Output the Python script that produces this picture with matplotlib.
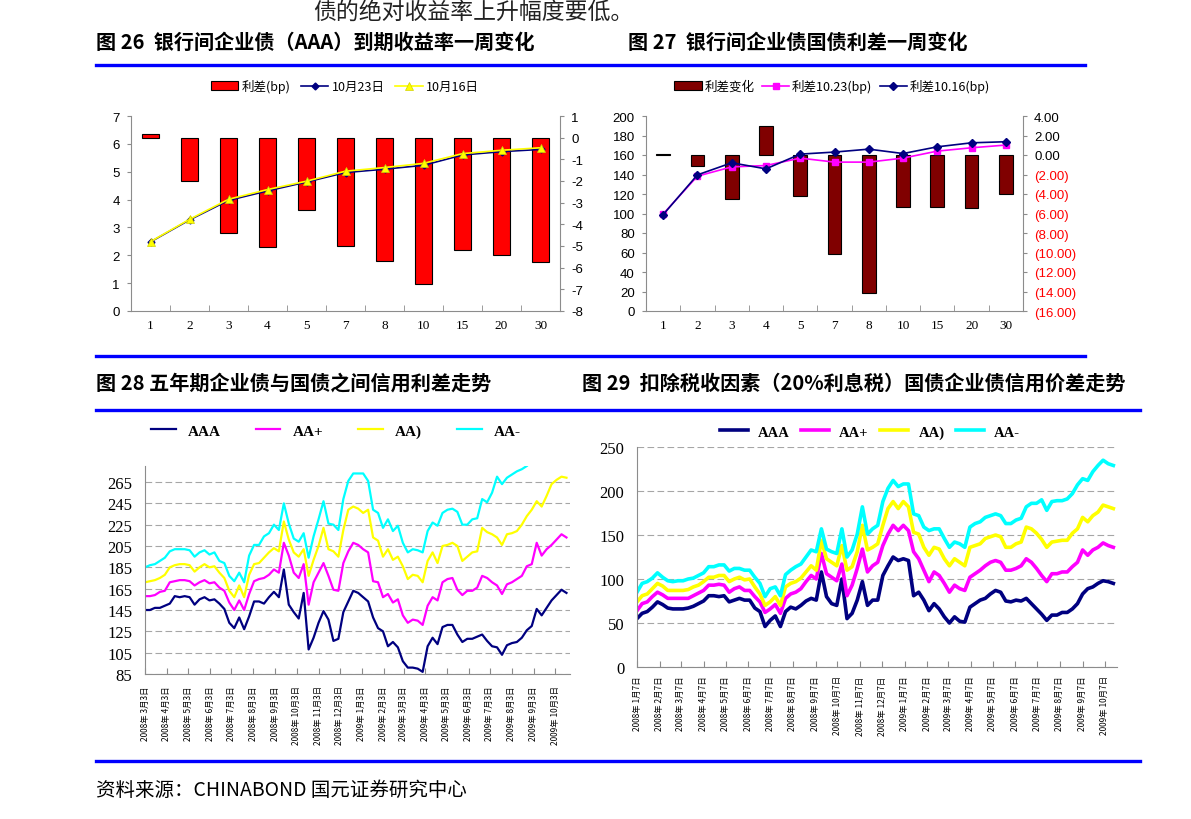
import matplotlib
matplotlib.use("Agg")
import matplotlib.pyplot as plt
import numpy as np
import pandas as pd
from matplotlib.lines import Line2D
from matplotlib.patches import Patch

plt.rcParams["font.family"] = ["Noto Sans CJK SC", "DejaVu Sans"]
plt.rcParams["axes.unicode_minus"] = False

W, H = 1191, 820
GRAY = "#8C8C8C"
NAVY = "#000080"
MAGENTA = "#FF00FF"
YELLOW = "#FFFF00"
CYAN = "#00FFFF"
BLUE = "#0000FF"
SANS = "Liberation Sans"
SERIF = "Liberation Serif"

# fig 26: AAA yield curve, week change
terms = ["1", "2", "3", "4", "5", "7", "8", "10", "15", "20", "30"]
fig26_diff = [0.15, -2.0, -4.4, -5.05, -3.35, -5.0, -5.7, -6.75, -5.2, -5.4, -5.75]
fig26_oct23 = [2.48, 3.27, 3.97, 4.31, 4.63, 4.97, 5.09, 5.23, 5.60, 5.72, 5.80]
fig26_oct16 = [2.49, 3.29, 4.01, 4.36, 4.66, 5.02, 5.15, 5.30, 5.65, 5.77, 5.86]

# fig 27: spread vs treasury, week change
fig27_diff = [0.15, -1.1, -4.5, 3.0, -4.2, -10.2, -14.2, -5.3, -5.3, -5.45, -4.0]
fig27_oct23 = [99.5, 138.3, 147.8, 149.2, 156.8, 152.7, 152.7, 156.8, 164.0, 167.4, 170.2]
fig27_oct16 = [98.8, 139.6, 152.0, 145.8, 160.9, 163.0, 166.0, 161.5, 168.4, 172.5, 173.6]

# fig 28: 5y credit spread, weekly from 2008-03-03
f28_dates = pd.date_range("2008-03-03", periods=86, freq="7D")
f28_aaa = [145, 145, 147, 147, 149, 151, 158, 157, 158, 157,
           150, 155, 157, 154, 155, 151, 146, 133, 128, 138,
           127, 139, 153, 153, 151, 157, 162, 157, 183, 150,
           143, 137, 161, 108, 119, 133, 144, 136, 116, 118,
           143, 153, 163, 161, 157, 153, 138, 128, 125, 111,
           115, 110, 97, 91, 91, 90, 87, 111, 119, 113,
           129, 131, 131, 122, 115, 118, 118, 120, 122, 116,
           111, 110, 103, 112, 114, 115, 119, 126, 130, 146,
           140, 147, 154, 159, 164, 161]
f28_aap = [158, 158, 159, 162, 163, 171, 172, 173, 173, 172,
           168, 171, 173, 170, 171, 166, 163, 152, 145, 154,
           145, 160, 172, 174, 175, 178, 183, 180, 208, 196,
           180, 175, 188, 150, 171, 180, 189, 177, 164, 163,
           189, 200, 208, 206, 202, 199, 172, 171, 157, 160,
           152, 155, 140, 133, 136, 135, 131, 149, 157, 154,
           171, 174, 175, 164, 159, 163, 163, 166, 177, 175,
           171, 168, 160, 169, 171, 174, 177, 186, 188, 208,
           196, 202, 206, 211, 216, 213]
f28_aa = [171, 172, 173, 175, 178, 185, 187, 188, 188, 187,
          181, 185, 188, 185, 186, 180, 175, 163, 157, 168,
          157, 178, 188, 189, 194, 199, 203, 200, 228, 211,
          199, 195, 202, 177, 192, 205, 222, 202, 200, 195,
          220, 239, 242, 240, 236, 239, 213, 210, 195, 202,
          192, 195, 186, 174, 178, 177, 171, 191, 199, 189,
          205, 206, 208, 205, 191, 195, 199, 200, 222, 218,
          216, 213, 206, 216, 217, 219, 225, 233, 239, 247,
          242, 252, 263, 267, 270, 269]
f28_aam = [185, 187, 188, 191, 194, 200, 202, 202, 202, 201,
           195, 199, 201, 197, 199, 191, 189, 177, 172, 180,
           171, 196, 206, 206, 214, 217, 225, 220, 245, 226,
           212, 209, 217, 194, 214, 230, 247, 226, 225, 220,
           249, 266, 273, 273, 273, 266, 239, 236, 222, 230,
           219, 224, 208, 199, 202, 201, 199, 219, 227, 224,
           236, 239, 240, 237, 225, 225, 230, 231, 249, 246,
           255, 270, 263, 269, 272, 275, 277, 280]

# fig 29: after-tax credit spread, weekly from 2008-01-07
f29_dates = pd.date_range("2008-01-07", periods=94, freq="7D")
f29_aaa = [55, 61, 63, 68, 74, 71, 67, 66, 66, 66,
           67, 69, 72, 75, 81, 81, 80, 81, 74, 76,
           78, 76, 76, 67, 63, 46, 53, 58, 46, 63,
           68, 66, 70, 75, 78, 76, 108, 80, 72, 70,
           100, 55, 61, 76, 97, 70, 76, 76, 104, 115,
           125, 121, 123, 121, 81, 85, 76, 64, 72, 66,
           57, 50, 57, 52, 51, 68, 72, 76, 78, 83,
           87, 85, 75, 74, 76, 75, 78, 72, 66, 60,
           53, 59, 59, 62, 62, 66, 72, 83, 89, 91,
           95, 98, 97, 95]
f29_aap = [64, 72, 74, 80, 85, 82, 78, 78, 78, 78,
           78, 81, 84, 87, 93, 93, 94, 93, 85, 89,
           91, 87, 87, 80, 74, 62, 66, 71, 61, 78,
           83, 85, 89, 97, 104, 100, 129, 106, 102, 98,
           117, 81, 93, 112, 134, 108, 115, 119, 138, 151,
           161, 155, 161, 155, 131, 123, 110, 97, 108, 104,
           95, 85, 93, 89, 87, 102, 106, 110, 115, 119,
           121, 119, 110, 110, 112, 115, 123, 119, 112, 104,
           97, 106, 106, 108, 108, 114, 119, 133, 127, 133,
           136, 141, 138, 136]
f29_aa = [74, 81, 83, 89, 95, 92, 87, 87, 87, 87,
          88, 91, 93, 97, 102, 102, 104, 104, 97, 100,
          102, 99, 100, 91, 83, 70, 74, 80, 70, 91,
          95, 97, 101, 108, 115, 110, 144, 123, 119, 115,
          138, 110, 114, 131, 161, 133, 136, 140, 161, 180,
          188, 180, 188, 182, 153, 151, 136, 127, 136, 134,
          123, 115, 123, 119, 115, 136, 138, 140, 146, 148,
          150, 148, 136, 136, 140, 142, 159, 157, 152, 145,
          136, 142, 143, 144, 144, 152, 157, 170, 165, 172,
          176, 184, 182, 180]
f29_aam = [85, 95, 97, 101, 107, 102, 98, 97, 98, 98,
           100, 101, 104, 107, 114, 114, 116, 116, 109, 112,
           112, 110, 110, 102, 95, 80, 89, 91, 81, 105,
           110, 114, 117, 125, 133, 131, 157, 134, 131, 129,
           157, 125, 133, 151, 182, 151, 157, 161, 188, 203,
           212, 205, 208, 208, 174, 172, 159, 155, 157, 157,
           146, 136, 142, 140, 136, 159, 163, 165, 170, 172,
           174, 172, 163, 163, 167, 169, 182, 186, 186, 190,
           178, 188, 189, 189, 191, 197, 207, 214, 212, 222,
           229, 235, 231, 229]

rating_labels = ["AAA", "AA+", "AA)", "AA-"]


def rect(x0, y0, x1, y1):
    return [x0 / W, 1 - y1 / H, (x1 - x0) / W, (y1 - y0) / H]


def set_spines(ax, sides):
    for s in ["top", "right", "left", "bottom"]:
        ax.spines[s].set_visible(s in sides)
        ax.spines[s].set_color(GRAY)


def category_axes(fig, box):
    ax = fig.add_axes(rect(*box))
    axr = ax.twinx()
    # lines above the bars
    ax.set_zorder(axr.get_zorder() + 1)
    ax.patch.set_visible(False)
    set_spines(ax, ["left", "bottom"])
    set_spines(axr, ["right"])
    x = np.arange(len(terms))
    ax.set_xlim(-0.5, len(terms) - 0.5)
    ax.set_xticks(x, terms, fontfamily=SERIF, fontsize=9.5)
    ax.set_xticks(x[:-1] + 0.5, minor=True)
    ax.tick_params(axis="x", which="major", length=0, pad=6)
    ax.tick_params(axis="x", which="minor", direction="in", length=4, color=GRAY)
    ax.tick_params(axis="y", length=3, color=GRAY, pad=5)
    axr.tick_params(axis="y", length=3, color=GRAY, pad=5)
    return ax, axr, x


def draw_fig26(fig):
    ax, axr, x = category_axes(fig, (131, 117, 560, 312))
    axr.bar(x, fig26_diff, width=0.42, color="#FF0000", edgecolor="black", linewidth=0.8)
    ax.plot(x, fig26_oct23, color=NAVY, lw=1.2, marker="D", ms=3.5)
    ax.plot(x, fig26_oct16, color=YELLOW, lw=1.2, marker="^", ms=6,
            mec="#D2D200", mew=0.5)
    ax.set_ylim(0, 7)
    ax.set_yticks(range(0, 8), [str(v) for v in range(0, 8)],
                  fontfamily=SANS, fontsize=9.5)
    axr.set_ylim(-8, 1)
    axr.set_yticks(range(-8, 2), [str(v) for v in range(-8, 2)],
                   fontfamily=SANS, fontsize=9.5)

    handles = [Patch(facecolor="#FF0000", edgecolor="black", linewidth=0.8),
               Line2D([], [], color=NAVY, lw=1.2, marker="D", ms=3.5),
               Line2D([], [], color=YELLOW, lw=1.2, marker="^", ms=6,
                      mec="#D2D200", mew=0.5)]
    fig.legend(handles, ["利差(bp)", "10月23日", "10月16日"], loc="center",
               bbox_to_anchor=(345 / W, 1 - 87 / H), ncol=3, frameon=False,
               fontsize=9, handlelength=2.2, handletextpad=0.3, columnspacing=0.8)


def draw_fig27(fig):
    ax, axr, x = category_axes(fig, (646, 117, 1023, 312))
    axr.bar(x, fig27_diff, width=0.4, color="#800000", edgecolor="black", linewidth=0.8)
    ax.plot(x, fig27_oct23, color=MAGENTA, lw=1.2, marker="s", ms=4.5)
    ax.plot(x, fig27_oct16, color=NAVY, lw=1.2, marker="D", ms=4)
    ax.set_ylim(0, 200)
    ax.set_yticks(range(0, 201, 20), [str(v) for v in range(0, 201, 20)],
                  fontfamily=SANS, fontsize=9.5)
    axr.set_ylim(-16, 4)
    vals = list(range(-16, 5, 2))
    labels = [f"{v:.2f}" if v >= 0 else f"({-v:.2f})" for v in vals]
    axr.set_yticks(vals, labels, fontfamily=SANS, fontsize=9.5)
    for v, lab in zip(vals, axr.get_yticklabels()):
        lab.set_color("red" if v < 0 else "black")

    handles = [Patch(facecolor="#800000", edgecolor="black", linewidth=0.8),
               Line2D([], [], color=MAGENTA, lw=1.2, marker="s", ms=4.5),
               Line2D([], [], color=NAVY, lw=1.2, marker="D", ms=4)]
    fig.legend(handles, ["利差变化", "利差10.23(bp)", "利差10.16(bp)"], loc="center",
               bbox_to_anchor=(832 / W, 1 - 87 / H), ncol=3, frameon=False,
               fontsize=9, handlelength=2.2, handletextpad=0.2, columnspacing=0.6)


def date_labels(ticks):
    return [f"{d.year}年 {d.month}月{d.day}日" for d in ticks]


def draw_spread(fig, box, dates, series, lw, ylim, yticks, xlim, ticks, pad,
                legend_at, legend_kw):
    ax = fig.add_axes(rect(*box))
    set_spines(ax, ["left", "bottom"])
    colors = [NAVY, MAGENTA, YELLOW, CYAN]
    for vals, color, label in zip(series, colors, rating_labels):
        ax.plot(dates[:len(vals)], vals, color=color, lw=lw, label=label)
    ax.set_ylim(*ylim)
    ax.set_yticks(yticks, [str(v) for v in yticks], fontfamily=SERIF, fontsize=12)
    ax.yaxis.grid(True, color="#A6A6A6", lw=0.8, linestyle=(0, (6, 3)))
    ax.set_axisbelow(True)
    ax.set_xlim(pd.Timestamp(xlim[0]), pd.Timestamp(xlim[1]))
    ax.set_xticks(ticks, date_labels(ticks), rotation=90, fontsize=6)
    ax.tick_params(axis="x", direction="in", length=4, color=GRAY, pad=pad)
    ax.tick_params(axis="y", length=0, pad=9)
    size = legend_kw.pop("size")
    ax.legend(loc="center", bbox_to_anchor=(legend_at[0] / W, 1 - legend_at[1] / H),
              bbox_transform=fig.transFigure, ncol=4, frameon=False,
              prop={"family": SERIF, "size": size, "weight": "bold"}, **legend_kw)
    return ax


def draw_texts(fig):
    fig.text(313 / W, 1 - 12 / H, "债的绝对收益率上升幅度要低。", fontsize=16.5,
             va="center", color="#222222")
    titles = [(96, 42, "图 26  银行间企业债（AAA）到期收益率一周变化"),
              (628, 42, "图 27  银行间企业债国债利差一周变化"),
              (96, 383, "图 28 五年期企业债与国债之间信用利差走势"),
              (582, 383, "图 29  扣除税收因素（20%利息税）国债企业债信用价差走势")]
    for x, y, t in titles:
        fig.text(x / W, 1 - y / H, t, fontsize=14.5, fontweight="bold",
                 va="center", color="black")
    fig.text(96 / W, 1 - 790 / H, "资料来源：CHINABOND 国元证券研究中心", fontsize=14,
             va="center", color="black")
    for y, x1 in [(66, 1085), (357, 1085), (411, 1140), (762, 1140)]:
        fig.add_artist(Line2D([96 / W, x1 / W], [1 - y / H, 1 - y / H],
                              color=BLUE, lw=2.4))


def main():
    fig = plt.figure(figsize=(W / 100, H / 100), dpi=100)
    draw_texts(fig)
    draw_fig26(fig)
    draw_fig27(fig)

    ticks28 = pd.date_range("2008-03-01", "2009-10-01", freq="MS") + pd.Timedelta(days=2)
    draw_spread(fig, (145, 467, 570, 675), f28_dates,
                [f28_aaa, f28_aap, f28_aa, f28_aam], 1.6,
                (85, 280), list(range(85, 266, 20)),
                ("2008-03-03", "2009-10-24"), ticks28, 8, (336, 432),
                {"size": 11, "handlelength": 1.6, "handletextpad": 0.8,
                 "columnspacing": 2.3})

    ticks29 = pd.date_range("2008-01-01", "2009-10-01", freq="MS") + pd.Timedelta(days=6)
    draw_spread(fig, (637, 448, 1117, 668), f29_dates,
                [f29_aaa, f29_aap, f29_aa, f29_aam], 2.6,
                (0, 250), list(range(0, 251, 50)),
                ("2008-01-07", "2009-10-24"), ticks29, 6, (870, 433),
                {"size": 10.5, "handlelength": 1.9, "handletextpad": 0.7,
                 "columnspacing": 0.8})

    fig.savefig("out.png", dpi=100)
    plt.close(fig)


if __name__ == "__main__":
    main()
